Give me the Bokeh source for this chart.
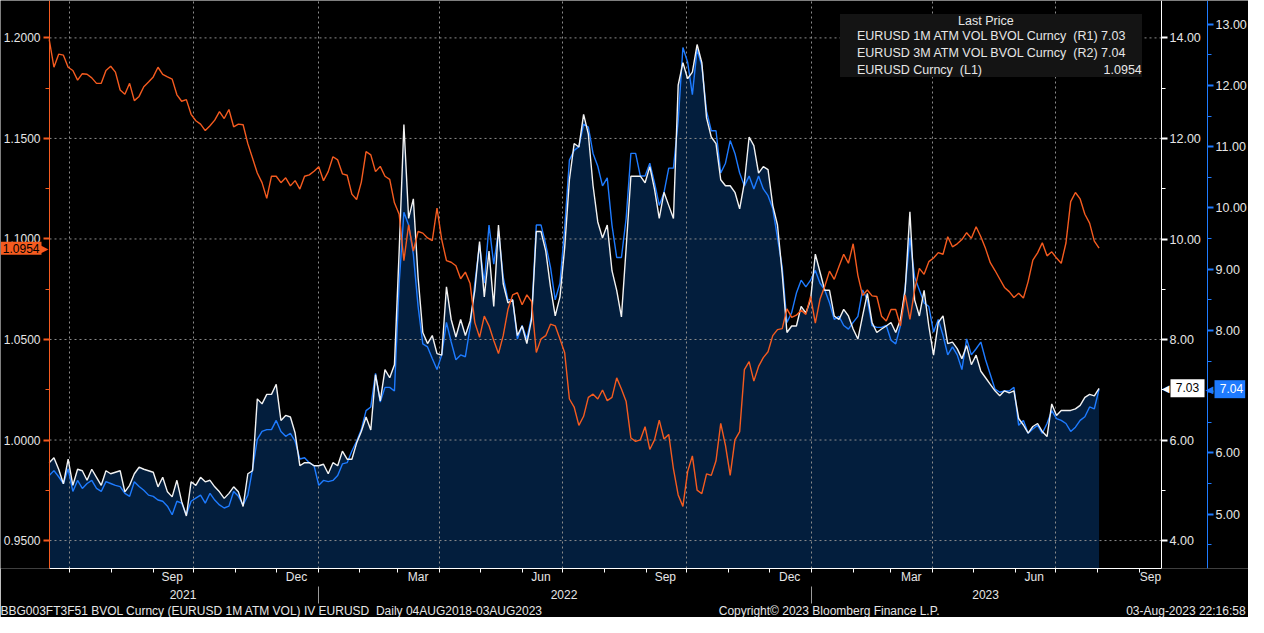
import pandas as pd
from bokeh.plotting import figure
from bokeh.models import (Range1d, LinearAxis, DatetimeAxis, FixedTicker, NumeralTickFormatter,
                          DatetimeTickFormatter, Grid, Legend, LegendItem, Label, Title)
from bokeh.embed import file_html
from bokeh.resources import INLINE

# ---------------- data ----------------
dates = pd.date_range("2021-06-16", periods=223, freq="84h")
eurusd = [
    1.1992, 1.1854, 1.1919, 1.1914, 1.1854, 1.1838, 1.1790, 1.1822, 1.1819, 1.1801,
    1.1774, 1.1774, 1.1838, 1.1859, 1.1830, 1.1741, 1.1720, 1.1774, 1.1688, 1.1709,
    1.1757, 1.1781, 1.1806, 1.1854, 1.1819, 1.1806, 1.1795, 1.1717, 1.1685, 1.1693,
    1.1620, 1.1588, 1.1571, 1.1539, 1.1563, 1.1591, 1.1633, 1.1599,
    1.1644, 1.1558, 1.1571, 1.1568, 1.1474, 1.1401, 1.1328, 1.1280, 1.1202, 1.1312,
    1.1312, 1.1280, 1.1304, 1.1264, 1.1290, 1.1248, 1.1312, 1.1319, 1.1337, 1.1359,
    1.1290, 1.1335, 1.1409, 1.1393, 1.1324, 1.1317, 1.1223, 1.1196, 1.1283, 1.1434,
    1.1418, 1.1335, 1.1361, 1.1312, 1.1296, 1.1180, 1.1123,
    1.0892, 1.1070, 1.0940, 1.1037, 1.1029, 1.1005, 1.0992, 1.1154, 1.0997, 1.0892,
    1.0884, 1.0867, 1.0802, 1.0835, 1.0778, 1.0584, 1.0511, 1.0616, 1.0568, 1.0495,
    1.0430, 1.0519, 1.0649, 1.0722, 1.0733, 1.0673, 1.0722, 1.0689, 1.0435, 1.0503,
    1.0519, 1.0576, 1.0568, 1.0503, 1.0434, 1.0204, 1.0164,
    1.0073, 1.0118, 1.0212, 1.0228, 1.0204, 1.0249, 1.0196, 1.0212, 1.0309, 1.0254,
    1.0191, 1.0010, 0.9993, 1.0001, 1.0066, 0.9953, 1.0001, 1.0099, 1.0005, 1.0028,
    0.9856, 0.9727, 0.9670, 0.9843, 0.9921, 0.9751, 0.9733, 0.9832, 0.9824, 0.9897,
    1.0083, 0.9973, 0.9824, 1.0001, 1.0042, 1.0350, 1.0390,
    1.0293, 1.0366, 1.0410, 1.0439, 1.0519, 1.0549, 1.0554, 1.0652, 1.0610, 1.0621,
    1.0646, 1.0625, 1.0714, 1.0581, 1.0701, 1.0765, 1.0840, 1.0799, 1.0863, 1.0924,
    1.0879, 1.0976, 1.0819, 1.0719, 1.0746, 1.0717, 1.0714, 1.0616, 1.0592, 1.0649,
    1.0649, 1.0568, 1.0722, 1.0600, 1.0746, 1.0854, 1.0824,
    1.0887, 1.0905, 1.0932, 1.0924, 1.1011, 1.0961, 1.0976, 1.0997, 1.1031, 1.1003,
    1.1061, 1.1011, 1.0952, 1.0882, 1.0843, 1.0801, 1.0759, 1.0738, 1.0709, 1.0730,
    1.0706, 1.0788, 1.0895, 1.0931, 1.0981, 1.0916, 1.0936, 1.0905, 1.0879, 1.0980,
    1.1186, 1.1231, 1.1199, 1.1123, 1.1079, 1.0989, 1.0954,
]
vol_1m = [
    5.55, 5.65, 5.42, 5.13, 5.62, 5.10, 5.42, 5.39, 5.20, 5.42,
    5.26, 5.10, 5.39, 5.33, 5.36, 5.39, 4.97, 5.10, 5.33, 5.46,
    5.42, 5.39, 5.36, 5.07, 5.26, 4.97, 4.87, 5.20, 4.78, 4.49,
    5.17, 5.10, 5.26, 5.17, 5.20, 5.07, 4.97, 4.84,
    4.94, 5.07, 4.97, 4.68, 5.33, 5.39, 6.82, 6.72, 6.91, 6.91,
    7.11, 6.39, 6.49, 6.46, 6.14, 5.49, 5.55, 5.55, 5.49, 5.49,
    5.52, 5.33, 5.55, 5.49, 5.78, 5.62, 5.62, 5.94, 6.17, 6.46,
    6.20, 7.30, 6.78, 7.40, 7.24, 7.50, 9.76,
    12.28, 10.41, 10.80, 9.24, 8.14, 7.92, 8.08, 7.72, 7.69, 9.05,
    8.40, 8.05, 8.40, 8.08, 8.37, 8.98, 9.95, 8.85, 9.76, 8.66,
    10.28, 9.11, 8.73, 8.79, 8.08, 8.27, 7.92, 8.40, 10.15, 10.15,
    9.76, 9.05, 8.47, 8.85, 9.83, 11.18, 11.90,
    11.83, 12.48, 12.09, 11.06, 10.34, 10.02, 10.28, 9.37, 8.98, 8.45,
    9.83, 11.25, 11.25, 11.25, 11.12, 11.44, 10.99, 10.41, 10.93, 10.67,
    10.41, 13.06, 13.51, 13.19, 13.32, 13.87, 13.51, 12.41, 12.03, 11.90,
    11.18, 11.06, 11.06, 10.93, 10.60, 11.12, 12.03,
    11.86, 11.31, 11.44, 11.38, 10.67, 10.28, 9.31, 8.14, 8.27, 8.27,
    8.66, 8.53, 8.79, 9.70, 9.34, 8.98, 8.98, 8.47, 8.40, 8.60,
    8.47, 8.21, 8.01, 8.47, 8.92, 8.34, 8.14, 8.21, 8.27, 8.34,
    8.14, 8.40, 8.98, 10.54, 8.79, 8.47, 8.98,
    8.27, 7.69, 8.34, 8.47, 7.92, 7.95, 7.82, 7.62, 7.88, 7.50,
    7.69, 7.37, 7.24, 7.11, 6.98, 6.88, 6.98, 6.94, 6.98, 6.43,
    6.30, 6.14, 6.27, 6.33, 6.17, 6.07, 6.72, 6.49, 6.59, 6.59,
    6.59, 6.62, 6.69, 6.85, 6.91, 6.88, 7.03,
]
vol_3m = [
    5.63, 5.71, 5.61, 5.50, 5.74, 5.37, 5.55, 5.42, 5.50, 5.55,
    5.42, 5.37, 5.53, 5.50, 5.47, 5.45, 5.34, 5.29, 5.53, 5.45,
    5.39, 5.31, 5.29, 5.23, 5.21, 5.13, 4.99, 5.21, 5.18, 4.99,
    5.21, 5.26, 5.31, 5.18, 5.34, 5.23, 5.15, 5.10,
    5.13, 5.37, 5.29, 5.15, 5.31, 5.74, 6.22, 6.35, 6.38, 6.38,
    6.53, 6.35, 6.27, 6.32, 6.19, 5.90, 5.92, 5.84, 5.79, 5.47,
    5.55, 5.53, 5.55, 5.63, 5.82, 5.84, 6.03, 6.19, 6.38, 6.69,
    6.75, 7.30, 6.83, 7.07, 7.07, 7.01, 8.77,
    9.93, 9.72, 9.24, 8.39, 7.78, 7.73, 7.54, 7.36, 7.60, 8.13,
    7.81, 7.52, 7.60, 7.57, 8.05, 8.77, 9.40, 8.77, 9.72, 9.08,
    9.62, 8.87, 8.50, 8.50, 7.86, 8.08, 7.86, 8.23, 9.72, 9.72,
    9.40, 9.03, 8.50, 8.77, 9.67, 10.78, 10.94,
    11.00, 11.37, 11.32, 10.89, 10.68, 10.36, 10.49, 9.72, 9.19, 9.19,
    9.83, 10.89, 10.89, 10.52, 10.52, 10.73, 10.41, 10.04, 10.25, 10.65,
    10.65, 11.42, 12.62, 12.38, 11.85, 12.59, 12.32, 11.58, 11.26, 11.26,
    10.57, 10.73, 11.10, 10.89, 10.57, 10.36, 10.52,
    10.31, 10.52, 10.31, 10.20, 9.99, 9.51, 9.03, 8.13, 8.29, 8.61,
    8.82, 8.71, 8.82, 8.98, 8.77, 8.66, 8.45, 8.18, 8.23, 8.08,
    8.02, 8.13, 8.23, 8.66, 8.50, 8.08, 8.05, 8.05, 8.08, 7.84,
    7.78, 8.08, 8.71, 9.51, 8.87, 8.66, 8.45,
    8.39, 7.97, 8.18, 7.92, 7.60, 7.73, 7.60, 7.36, 7.86, 7.60,
    7.70, 7.81, 7.52, 7.28, 7.04, 6.99, 7.01, 7.01, 7.07, 6.45,
    6.53, 6.32, 6.39, 6.45, 6.32, 6.48, 6.69, 6.56, 6.53, 6.48,
    6.35, 6.42, 6.53, 6.59, 6.75, 6.72, 7.04,
]

series_names = ["EURUSD 1M ATM VOL BVOL Curncy", "EURUSD 3M ATM VOL BVOL Curncy", "EURUSD Curncy"]
series_axes = ["(R1)", "(R2)", "(L1)"]
last_values = ["7.03", "7.04", "1.0954"]
legend_title = "Last Price"

left_ticks = [0.95, 1.00, 1.05, 1.10, 1.15, 1.20]
left_minor = [0.975, 1.025, 1.075, 1.125, 1.175]
r1_ticks = [4, 6, 8, 10, 12, 14]
r1_minor = [5, 7, 9, 11, 13]
r2_ticks = [5, 6, 7, 8, 9, 10, 11, 12, 13]
r2_minor = [4.5, 5.5, 6.5, 7.5, 8.5, 9.5, 10.5, 11.5, 12.5]

month_starts = pd.date_range("2021-07-01", "2023-09-01", freq="MS")
month_label_dates = ["2021-09-15", "2021-12-16", "2022-03-16", "2022-06-15", "2022-09-15",
                     "2022-12-16", "2023-03-16", "2023-06-15", "2023-09-09"]
year_label_dates = ["2021-09-23", "2022-07-02", "2023-05-10"]
year_starts = ["2022-01-01", "2023-01-01"]
quarter_starts = pd.date_range("2021-07-01", "2023-07-01", freq="QS")

footer_left = "BBG003FT3F51 BVOL Curncy (EURUSD 1M ATM VOL) IV EURUSD\u00a0\u00a0Daily 04AUG2018-03AUG2023"
footer_mid = "Copyright\u00a9 2023 Bloomberg Finance L.P."
footer_right = "03-Aug-2023 22:16:58"

# ---------------- styling / layout ----------------
ORANGE = "#f55b1f"
BLUE = "#1e7bff"
WHITE = "#f2f2f2"
FILL = "#031e3d"
TXT = "#e6e6e6"
GRID = "#8c8c8c"
FONT = "Liberation Sans"
W, H = 1248, 617
BOTTOM = 48
DL, DR = 49, 1161          # data area inside the (full-width) frame, px
BLUE_GAP = 46              # distance of the second right axis from the data area
nb = "\u00a0"


def ms(d):
    return pd.Timestamp(d).value / 1e6


x0 = ms("2021-06-16 05:00")
x1 = ms("2023-09-17 05:00")
mpp = (x1 - x0) / (DR - DL)

p = figure(width=W, height=H,
           x_range=Range1d(x0 - DL * mpp, x1 + (W - DR) * mpp),
           y_range=Range1d(0.9361, 1.2186), x_axis_type=None,
           output_backend="svg", toolbar_location=None,
           background_fill_color="black", border_fill_color="black",
           outline_line_color=None, min_border_left=0, min_border_right=0,
           min_border_top=0, min_border_bottom=BOTTOM)
p.extra_y_ranges = {"r1": Range1d(3.445, 14.746), "r2": Range1d(4.112, 13.387)}
p.ygrid[0].visible = False


def style_axis(ax, col, size, standoff):
    ax.axis_line_color = col
    ax.major_tick_line_color = col
    ax.minor_tick_line_color = col
    ax.major_tick_line_width = 2
    ax.major_tick_out = 6
    ax.major_tick_in = 0
    ax.minor_tick_out = 4
    ax.minor_tick_in = 0
    ax.major_label_standoff = standoff
    ax.major_label_text_color = TXT
    ax.major_label_text_font = FONT
    ax.major_label_text_font_size = size


# left axis (EURUSD)
ya = p.yaxis[0]
ya.ticker = FixedTicker(ticks=left_ticks, minor_ticks=left_minor)
ya.formatter = NumeralTickFormatter(format="0.0000")
ya.fixed_location = x0
style_axis(ya, ORANGE, "12px", 3)

# right axes (vols)
a1 = LinearAxis(y_range_name="r1", ticker=FixedTicker(ticks=r1_ticks, minor_ticks=r1_minor),
                formatter=NumeralTickFormatter(format="0.00"), fixed_location=x1)
a2 = LinearAxis(y_range_name="r2", ticker=FixedTicker(ticks=r2_ticks, minor_ticks=r2_minor),
                formatter=NumeralTickFormatter(format="0.00"), fixed_location=x1 + BLUE_GAP * mpp)
style_axis(a1, "white", "12.5px", 2)
style_axis(a2, BLUE, "12.5px", 2)
p.add_layout(a1, "right")
p.add_layout(a2, "right")

# grids
p.add_layout(Grid(dimension=0, ticker=FixedTicker(ticks=[ms(d) for d in quarter_starts]),
                  grid_line_color=GRID, grid_line_dash="2 3"))
p.segment(x0=[x0] * len(left_ticks), x1=[x1] * len(left_ticks), y0=left_ticks, y1=left_ticks,
          line_color=GRID, line_dash="2 3", line_width=1, level="underlay")

# x axes
fmt_m = DatetimeTickFormatter(days="%b", months="%b", years="%b", hours="%b", boundary_scaling=False)
xm = DatetimeAxis(ticker=FixedTicker(ticks=[ms(d) for d in month_label_dates],
                                     minor_ticks=[ms(d) for d in month_starts]),
                  formatter=fmt_m, bounds=(x0, x1))
xm.axis_line_color = "white"
xm.major_tick_out = 0
xm.major_tick_in = 0
xm.major_tick_line_color = None
xm.minor_tick_out = 4
xm.minor_tick_in = 0
xm.minor_tick_line_color = "white"
xm.major_label_standoff = -3
xm.major_label_text_color = TXT
xm.major_label_text_font = FONT
xm.major_label_text_font_size = "12px"
p.add_layout(xm, "below")

fmt_y = DatetimeTickFormatter(days="%Y", months="%Y", years="%Y", hours="%Y", boundary_scaling=False)
xy = DatetimeAxis(ticker=FixedTicker(ticks=[ms(d) for d in year_label_dates],
                                     minor_ticks=[ms(d) for d in year_starts]),
                  formatter=fmt_y, bounds=(x0, x1))
xy.axis_line_color = None
xy.major_tick_out = 0
xy.major_tick_in = 0
xy.major_tick_line_color = None
xy.minor_tick_out = 17
xy.minor_tick_in = 0
xy.minor_tick_line_color = "#9a9a9a"
xy.major_label_standoff = -14
xy.major_label_text_color = TXT
xy.major_label_text_font = FONT
xy.major_label_text_font_size = "12px"
p.add_layout(xy, "below")

# footer (one line under the axes)
footer = footer_left + nb * 53 + footer_mid + nb * 56 + footer_right
p.add_layout(Title(text=footer, align="left", offset=0, standoff=0, text_font=FONT,
                   text_font_size="12px", text_font_style="normal", text_color=TXT), "below")

# glyphs
p.varea(x=dates, y1=0, y2=vol_1m, y_range_name="r1", fill_color=FILL, level="image")
p.line(dates, vol_3m, y_range_name="r2", line_color=BLUE, line_width=1.4)
p.line(dates, vol_1m, y_range_name="r1", line_color=WHITE, line_width=1.4)
p.line(dates, eurusd, line_color=ORANGE, line_width=1.4)

# legend
sw = [p.quad(left=[], right=[], top=[], bottom=[], fill_color=c, line_color=None)
      for c in ["white", BLUE, ORANGE]]
labels = [
    series_names[0] + nb * 2 + series_axes[0] + nb + last_values[0],
    series_names[1] + nb * 2 + series_axes[1] + nb + last_values[1],
    series_names[2] + nb * 2 + series_axes[2] + nb * 35 + last_values[2],
]
LEG_W, LEG_H, LEG_TOP = 318, 67, 11
leg = Legend(items=[LegendItem(label=l, renderers=[r]) for l, r in zip(labels, sw)],
             location=(DR - 3 - LEG_W, H - BOTTOM - LEG_TOP - LEG_H), padding=8, spacing=2,
             glyph_width=14, glyph_height=15, label_height=15, label_standoff=3,
             title=nb * 34 + legend_title, title_text_font=FONT, title_text_font_size="12.5px",
             title_text_font_style="normal", title_text_color=TXT, title_standoff=0,
             label_text_font=FONT, label_text_font_size="12.5px", label_text_color=TXT,
             background_fill_color="#141414", background_fill_alpha=1.0,
             border_line_color=None)
p.add_layout(leg)

# last-value tags (with small pointers towards their axes)
tag_specs = [
    # value, range, x anchor, offset, align, bg, fg, text, pointer, pointer offset, pointer align
    (last_values[2], "default", x0, -8, "right", ORANGE, "black", last_values[2], "\u25B6", -9, "left"),
    (last_values[0], "r1", x1, 9, "left", "white", "black", nb + last_values[0] + nb, "\u25C0", 8, "right"),
    (last_values[1], "r2", x1, BLUE_GAP + 7, "left", BLUE, "white", nb + last_values[1], "\u25C0", BLUE_GAP + 6, "right"),
]
for val, rng, xa, off, al, bg, fg, txt, ptr, poff, pal in tag_specs:
    p.add_layout(Label(x=xa, y=float(val), y_range_name=rng, x_offset=off,
                       text=txt, text_align=al, text_baseline="middle",
                       text_font=FONT, text_font_size="12px", text_color=fg,
                       background_fill_color=bg, padding=2))
    p.add_layout(Label(x=xa, y=float(val), y_range_name=rng, x_offset=poff,
                       text=ptr, text_align=pal, text_baseline="middle",
                       text_font="DejaVu Sans", text_font_size="10px", text_color=bg))

open("out.html", "w").write(file_html(p, INLINE))
